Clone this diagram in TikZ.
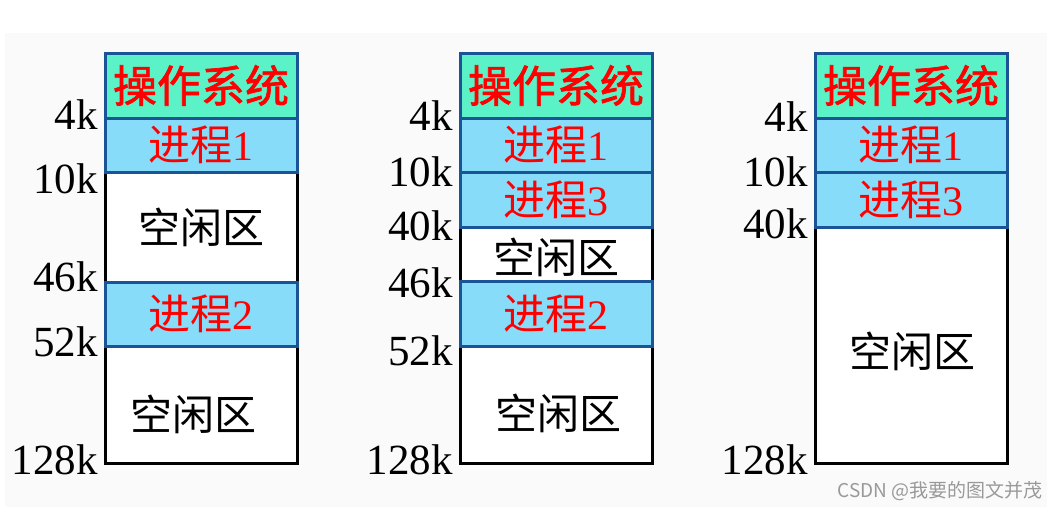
\documentclass[tikz,border=0pt]{standalone}
\usepackage{fontspec}
\setmainfont{Liberation Serif}
\newfontfamily\cjk{Noto Sans CJK SC}
\newfontfamily\cjkheavy[FakeBold=1.6]{Noto Sans CJK SC}
\usetikzlibrary{
  positioning,
  calc
}
\definecolor{osgreen}{RGB}{92,242,200}
\definecolor{procblue}{RGB}{135,220,250}
\definecolor{edgeblue}{RGB}{26,84,150}
\definecolor{bggray}{RGB}{250,250,250}
\tikzset{
  node distance=0pt,
  mem/.style={draw=black, fill=white, line width=3pt, minimum width=192pt,
    minimum height=410pt, inner sep=0pt, outer sep=0pt, anchor=north west},
  seg/.style={draw=edgeblue, line width=3pt, minimum width=192pt,
    inner sep=0pt, outer sep=0pt, text=red, font=\fontsize{42}{42}\selectfont},
  ossys/.style={seg, fill=osgreen, minimum height=65pt,
    font=\cjkheavy\fontsize{44}{44}\selectfont},
  proc/.style={seg, fill=procblue},
  freetext/.style={font=\cjk\fontsize{42}{42}\selectfont},
  addr/.style={anchor=east, inner sep=0pt, xshift=-7pt,
    font=\fontsize{43}{43}\selectfont}
}

\begin{document}
\begin{tikzpicture}[x=1pt, y=-1pt]
  \useasboundingbox (0,0) rectangle (1058,514);
  \fill[bggray] (5,33) rectangle (1047,507);

  % first
  \node[mem] (mem1) at (105,53) {};
  \node[ossys, below=of mem1.north] (os1) {操作系统};
  \node[proc, minimum height=54pt, below=of os1] (pa1) {{\cjk 进程}1};
  \node[proc, minimum height=64pt, below=110pt of pa1] (pb1) {{\cjk 进程}2};
  \node[freetext] (fa1) at ($(pa1.south)!0.5!(pb1.north)$) {空闲区};
  \node[freetext, xshift=-8pt, yshift=-10pt] (fb1) at ($(pb1.south)!0.5!(mem1.south)$) {空闲区};

  \node[addr, yshift=3pt]  (k4a)   at (os1.south west) {4k};
  \node[addr, yshift=-7pt] (k10a)  at (pa1.south west) {10k};
  \node[addr, yshift=5pt]  (k46a)  at (pb1.north west) {46k};
  \node[addr, yshift=4pt]  (k52a)  at (pb1.south west) {52k};
  \node[addr, yshift=3pt]  (k128a) at (mem1.south west) {128k};

  % second
  \node[mem] (mem2) at (460,53) {};
  \node[ossys, below=of mem2.north] (os2) {操作系统};
  \node[proc, minimum height=54pt, below=of os2] (pa2) {{\cjk 进程}1};
  \node[proc, minimum height=55pt, below=of pa2] (pc2) {{\cjk 进程}3};
  \node[proc, minimum height=65pt, below=54pt of pc2] (pb2) {{\cjk 进程}2};
  \node[freetext, yshift=-3pt] (fa2) at ($(pc2.south)!0.5!(pb2.north)$) {空闲区};
  \node[freetext, xshift=2pt, yshift=-9pt] (fb2) at ($(pb2.south)!0.5!(mem2.south)$) {空闲区};

  \node[addr, yshift=2pt]  (k4b)   at (os2.south west) {4k};
  \node[addr]              (k10b)  at (pa2.south west) {10k};
  \node[addr, yshift=1pt]  (k40b)  at (pc2.south west) {40k};
  \node[addr, yshift=-2pt] (k46b)  at (pb2.north west) {46k};
  \node[addr, yshift=-5pt] (k52b)  at (pb2.south west) {52k};
  \node[addr, yshift=3pt]  (k128b) at (mem2.south west) {128k};

  % third
  \node[mem] (mem3) at (815,53) {};
  \node[ossys, below=of mem3.north] (os3) {操作系统};
  \node[proc, minimum height=54pt, below=of os3] (pa3) {{\cjk 进程}1};
  \node[proc, minimum height=55pt, below=of pa3] (pc3) {{\cjk 进程}3};
  \node[freetext, xshift=1pt, yshift=-6pt] (fa3) at ($(pc3.south)!0.5!(mem3.south)$) {空闲区};

  \node[addr, yshift=1pt]  (k4c)   at (os3.south west) {4k};
  \node[addr]              (k10c)  at (pa3.south west) {10k};
  \node[addr, yshift=3pt]  (k40c)  at (pc3.south west) {40k};
  \node[addr, yshift=3pt]  (k128c) at (mem3.south west) {128k};

  \node[anchor=east, inner sep=0pt, text=black!40,
    font=\cjk\fontsize{19}{19}\selectfont] (mark) at (1043,491) {CSDN @我要的图文并茂};
\end{tikzpicture}
\end{document}
